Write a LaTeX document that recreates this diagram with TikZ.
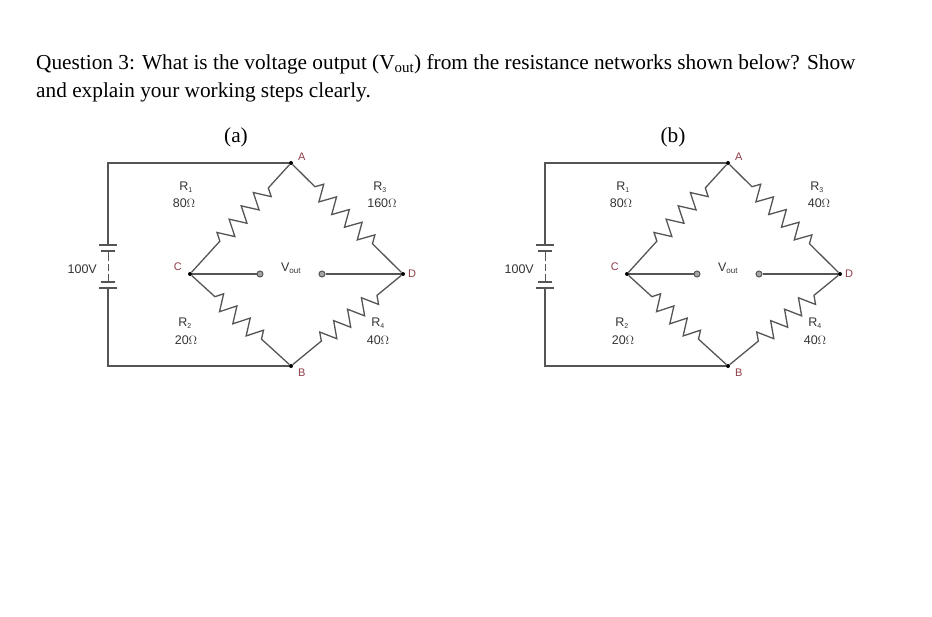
\documentclass[tikz,border=0pt]{standalone}
\usepackage{fontspec}
\setmainfont{Liberation Serif}
\newfontfamily\lsans{Liberation Sans}
\usetikzlibrary{decorations.pathmorphing}
\definecolor{wire}{RGB}{85,85,85}
\definecolor{lbl}{RGB}{140,60,70}
\begin{document}
\begin{tikzpicture}[x=1pt,y=-1pt,
  w/.style={draw=wire,line width=1.3pt},
  res/.style={w,decorate,decoration={zigzag,segment length=18pt,amplitude=8pt,pre length=0.21*#1,post length=0.23*#1}},
  dot/.style={circle,fill=black,inner sep=0pt,minimum size=4pt},
  term/.style={circle,draw=wire,fill=gray!70,line width=1pt,inner sep=0pt,minimum size=6pt},
  sl/.style={font=\lsans\fontsize{12.5}{12.5}\selectfont,text=black!80,align=center,inner sep=0pt},
  nl/.style={font=\lsans\fontsize{11}{11}\selectfont,text=lbl,inner sep=0pt}]
\useasboundingbox (0,0) rectangle (932,617);
\node[anchor=west,font=\fontsize{21.3}{24}\selectfont,inner sep=0pt] (q1) at (36,64) {Question 3: What is the voltage output (V\textsubscript{out}) from the resistance networks shown below? Show};
\node[anchor=west,font=\fontsize{21.3}{24}\selectfont,inner sep=0pt] (q2) at (36,92) {and explain your working steps clearly.};
\node[font=\fontsize{21.3}{24}\selectfont,inner sep=0pt] (la) at (236,137) {(a)};
\node[font=\fontsize{21.3}{24}\selectfont,inner sep=0pt] (lb) at (673,137) {(b)};
\foreach \o/\rt/\p in {0/160/a,437/40/b}{
\begin{scope}[xshift=\o pt]
  \node[dot] (A\p) at (291,163) {};
  \node[dot] (B\p) at (291,366) {};
  \node[dot] (C\p) at (190,274) {};
  \node[dot] (D\p) at (403,274) {};
  \node[term] (T1\p) at (260,274) {};
  \node[term] (T2\p) at (322,274) {};
  \coordinate (TL\p) at (108,163);
  \coordinate (BL\p) at (108,366);
  \coordinate (P1\p) at (108,245);
  \coordinate (P4\p) at (108,288);
  \draw[w] (A\p) -- (TL\p) -- (P1\p);
  \draw[w] (B\p) -- (BL\p) -- (P4\p);
  \draw[wire,line width=1.6pt] (99,245) -- (117,245);
  \draw[wire,line width=1.6pt] (101,251) -- (115,251);
  \draw[wire,line width=1pt] (108,251) -- (108,282);
  \draw[white,line width=1.5pt] (108,261) -- (108,264);
  \draw[white,line width=1.5pt] (108,271) -- (108,274);
  \draw[wire,line width=1.6pt] (101,282) -- (115,282);
  \draw[wire,line width=1.6pt] (99,288) -- (117,288);
  \draw[res=150pt] (A\p) -- (C\p);
  \draw[res=150pt] (A\p) -- (D\p);
  \draw[res=150pt] (C\p) -- (B\p);
  \draw[res=150pt] (D\p) -- (B\p);
  \draw[w] (C\p) -- (T1\p);
  \draw[w] (T2\p) -- (D\p);
  \node[nl,anchor=west] (nA\p) at (298,157) {A};
  \node[nl,anchor=west] (nB\p) at (298,373) {B};
  \node[nl,anchor=east] (nC\p) at (182,267) {C};
  \node[nl,anchor=west] (nD\p) at (408,274) {D};
  \node[sl] (vo\p) at (291,268) {V\textsubscript{\fontsize{8}{8}\selectfont out}};
  \node[sl] (r1\p) at (186,187) {R\textsubscript{\fontsize{7}{7}\selectfont 1}};
  \node[sl] (v1\p) at (184,203) {80$\Omega$};
  \node[sl] (r3\p) at (380,187) {R\textsubscript{\fontsize{7}{7}\selectfont 3}};
  \node[sl] (v3\p) at (382,203) {\rt$\Omega$};
  \node[sl] (r2\p) at (185,323) {R\textsubscript{\fontsize{7}{7}\selectfont 2}};
  \node[sl] (v2\p) at (186,340) {20$\Omega$};
  \node[sl] (r4\p) at (378,323) {R\textsubscript{\fontsize{7}{7}\selectfont 4}};
  \node[sl] (v4\p) at (378,340) {40$\Omega$};
  \node[sl,anchor=east] (bv\p) at (97,269) {100V};
\end{scope}}
\end{tikzpicture}
\end{document}
